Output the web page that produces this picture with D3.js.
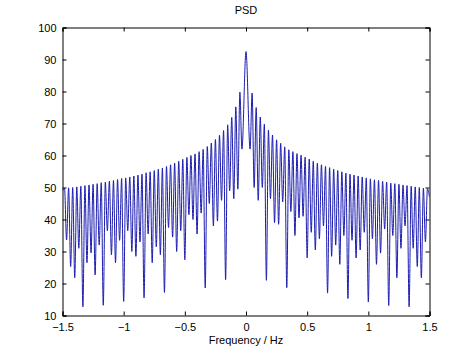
<!DOCTYPE html>
<html><head><meta charset="utf-8">
<script src="https://cdn.jsdelivr.net/npm/d3@7"></script>
<style>body{margin:0;background:#fff;} svg{display:block;} text{font-family:"Liberation Sans",Arial,Helvetica,sans-serif;fill:#000;}</style>
</head><body><svg id="c" width="474" height="355"></svg>
<script>
const title = "PSD";
const xLabel = "Frequency / Hz";
const xTicks = [-1.5, -1, -0.5, 0, 0.5, 1, 1.5];
const yTicks = [10, 20, 30, 40, 50, 60, 70, 80, 90, 100];
const lobeSpacing = 1 / 30; // Hz between spectral nulls
const mainPeak = 92.5;
// sidelobe tops, from the main lobe outward (dB)
const rightPeaks = [79.5, 75.0, 72.0, 69.8, 67.9, 66.4, 64.9, 63.8, 62.7, 61.8, 61.2, 60.6, 60.1, 59.5, 58.9,
  58.2, 57.6, 57.1, 56.6, 56.2, 55.7, 55.3, 54.9, 54.5, 54.2, 53.9, 53.6, 53.3, 53.0, 52.7,
  52.4, 52.2, 51.9, 51.7, 51.4, 51.2, 51.0, 50.8, 50.6, 50.4, 50.2, 50.0, 49.8, 49.6];
const leftPeaks = [79.8, 75.2, 71.9, 69.6, 67.8, 66.3, 65.0, 63.9, 62.8, 61.9, 61.2, 60.5, 60.0, 59.4, 58.8,
  58.2, 57.6, 57.1, 56.6, 56.1, 55.7, 55.3, 54.9, 54.6, 54.2, 53.9, 53.6, 53.3, 53.0, 52.8,
  52.5, 52.2, 52.0, 51.7, 51.5, 51.2, 51.0, 50.8, 50.6, 50.4, 50.2, 50.0, 49.9, 49.7];
// minima between lobes, from the main lobe outward (dB); last value is the band edge
const rightDips = [62.0, 50.0, 46.0, 50.0, 21.0, 46.5, 39.0, 38.5, 45.5, 18.7, 42.5, 35.0, 40.5, 41.0, 28.0,
  36.0, 30.5, 34.0, 38.0, 17.0, 28.5, 32.0, 26.0, 35.0, 15.3, 33.5, 28.0, 30.5, 36.0, 14.2,
  34.0, 26.0, 29.5, 37.0, 13.1, 35.0, 21.8, 31.0, 38.0, 12.7, 31.0, 25.3, 21.8, 33.0, 47.0];
const leftDips = [62.0, 49.5, 46.5, 49.0, 21.2, 46.0, 39.5, 38.0, 45.0, 18.6, 42.0, 35.5, 40.0, 41.5, 27.4,
  36.5, 30.0, 34.5, 37.5, 17.2, 29.0, 31.5, 26.5, 35.5, 15.5, 33.0, 28.5, 30.0, 36.5, 14.4,
  33.5, 26.5, 29.0, 36.5, 13.2, 32.0, 22.7, 29.6, 26.5, 12.7, 31.0, 21.8, 25.3, 33.6, 49.0];

// assemble the spectrum trace (frequency, dB)
const trace = [];
for (let k = leftDips.length; k >= 1; k--) {
  trace.push([-k * lobeSpacing, leftDips[k - 1]]);
  if (k > 1) trace.push([-(k - 0.5) * lobeSpacing, leftPeaks[k - 2]]);
}
trace.push([0, mainPeak]);
for (let k = 1; k <= rightDips.length; k++) {
  if (k > 1) trace.push([(k - 0.5) * lobeSpacing, rightPeaks[k - 2]]);
  trace.push([k * lobeSpacing, rightDips[k - 1]]);
}

const svg = d3.select("#c");
const L = 62.5, R = 429.5, T = 27.5, B = 315.5;
const x = d3.scaleLinear().domain([-1.5, 1.5]).range([L, R]);
const y = d3.scaleLinear().domain([10, 100]).range([B, T]);

svg.append("rect").attr("width", 474).attr("height", 355).attr("fill", "#fff");

const clip = svg.append("clipPath").attr("id", "clp");
clip.append("rect").attr("x", L).attr("y", T).attr("width", R - L).attr("height", B - T);

svg.append("path")
  .datum(trace)
  .attr("clip-path", "url(#clp)")
  .attr("fill", "none")
  .attr("stroke", "#1c1cb0")
  .attr("stroke-width", 1)
  .attr("d", d3.line().x(d => x(d[0])).y(d => y(d[1])).curve(d3.curveMonotoneX));

const tl = 4;
// bottom axis
const xb = svg.append("g").attr("transform", `translate(0,${B})`)
  .call(d3.axisBottom(x).tickValues(xTicks).tickSize(-tl).tickPadding(8).tickFormat(d3.format("")));
const xt = svg.append("g").attr("transform", `translate(0,${T})`)
  .call(d3.axisTop(x).tickValues(xTicks).tickSize(-tl).tickFormat(""));
const yl = svg.append("g").attr("transform", `translate(${L},0)`)
  .call(d3.axisLeft(y).tickValues(yTicks).tickSize(-tl).tickPadding(6));
const yr = svg.append("g").attr("transform", `translate(${R},0)`)
  .call(d3.axisRight(y).tickValues(yTicks).tickSize(-tl).tickFormat(""));
[xb, xt, yl, yr].forEach(g => {
  g.select(".domain").attr("stroke", "#000");
  g.selectAll(".tick line").attr("stroke", "#000");
  g.selectAll("text").attr("font-size", 11).attr("font-family", "Liberation Sans, Arial, sans-serif").attr("fill", "#000");
});

svg.append("text").attr("x", (L + R) / 2).attr("y", 14).attr("text-anchor", "middle")
  .attr("font-size", 11).text(title);
svg.append("text").attr("x", (L + R) / 2).attr("y", 344).attr("text-anchor", "middle")
  .attr("font-size", 11).text(xLabel);
</script></body></html>
